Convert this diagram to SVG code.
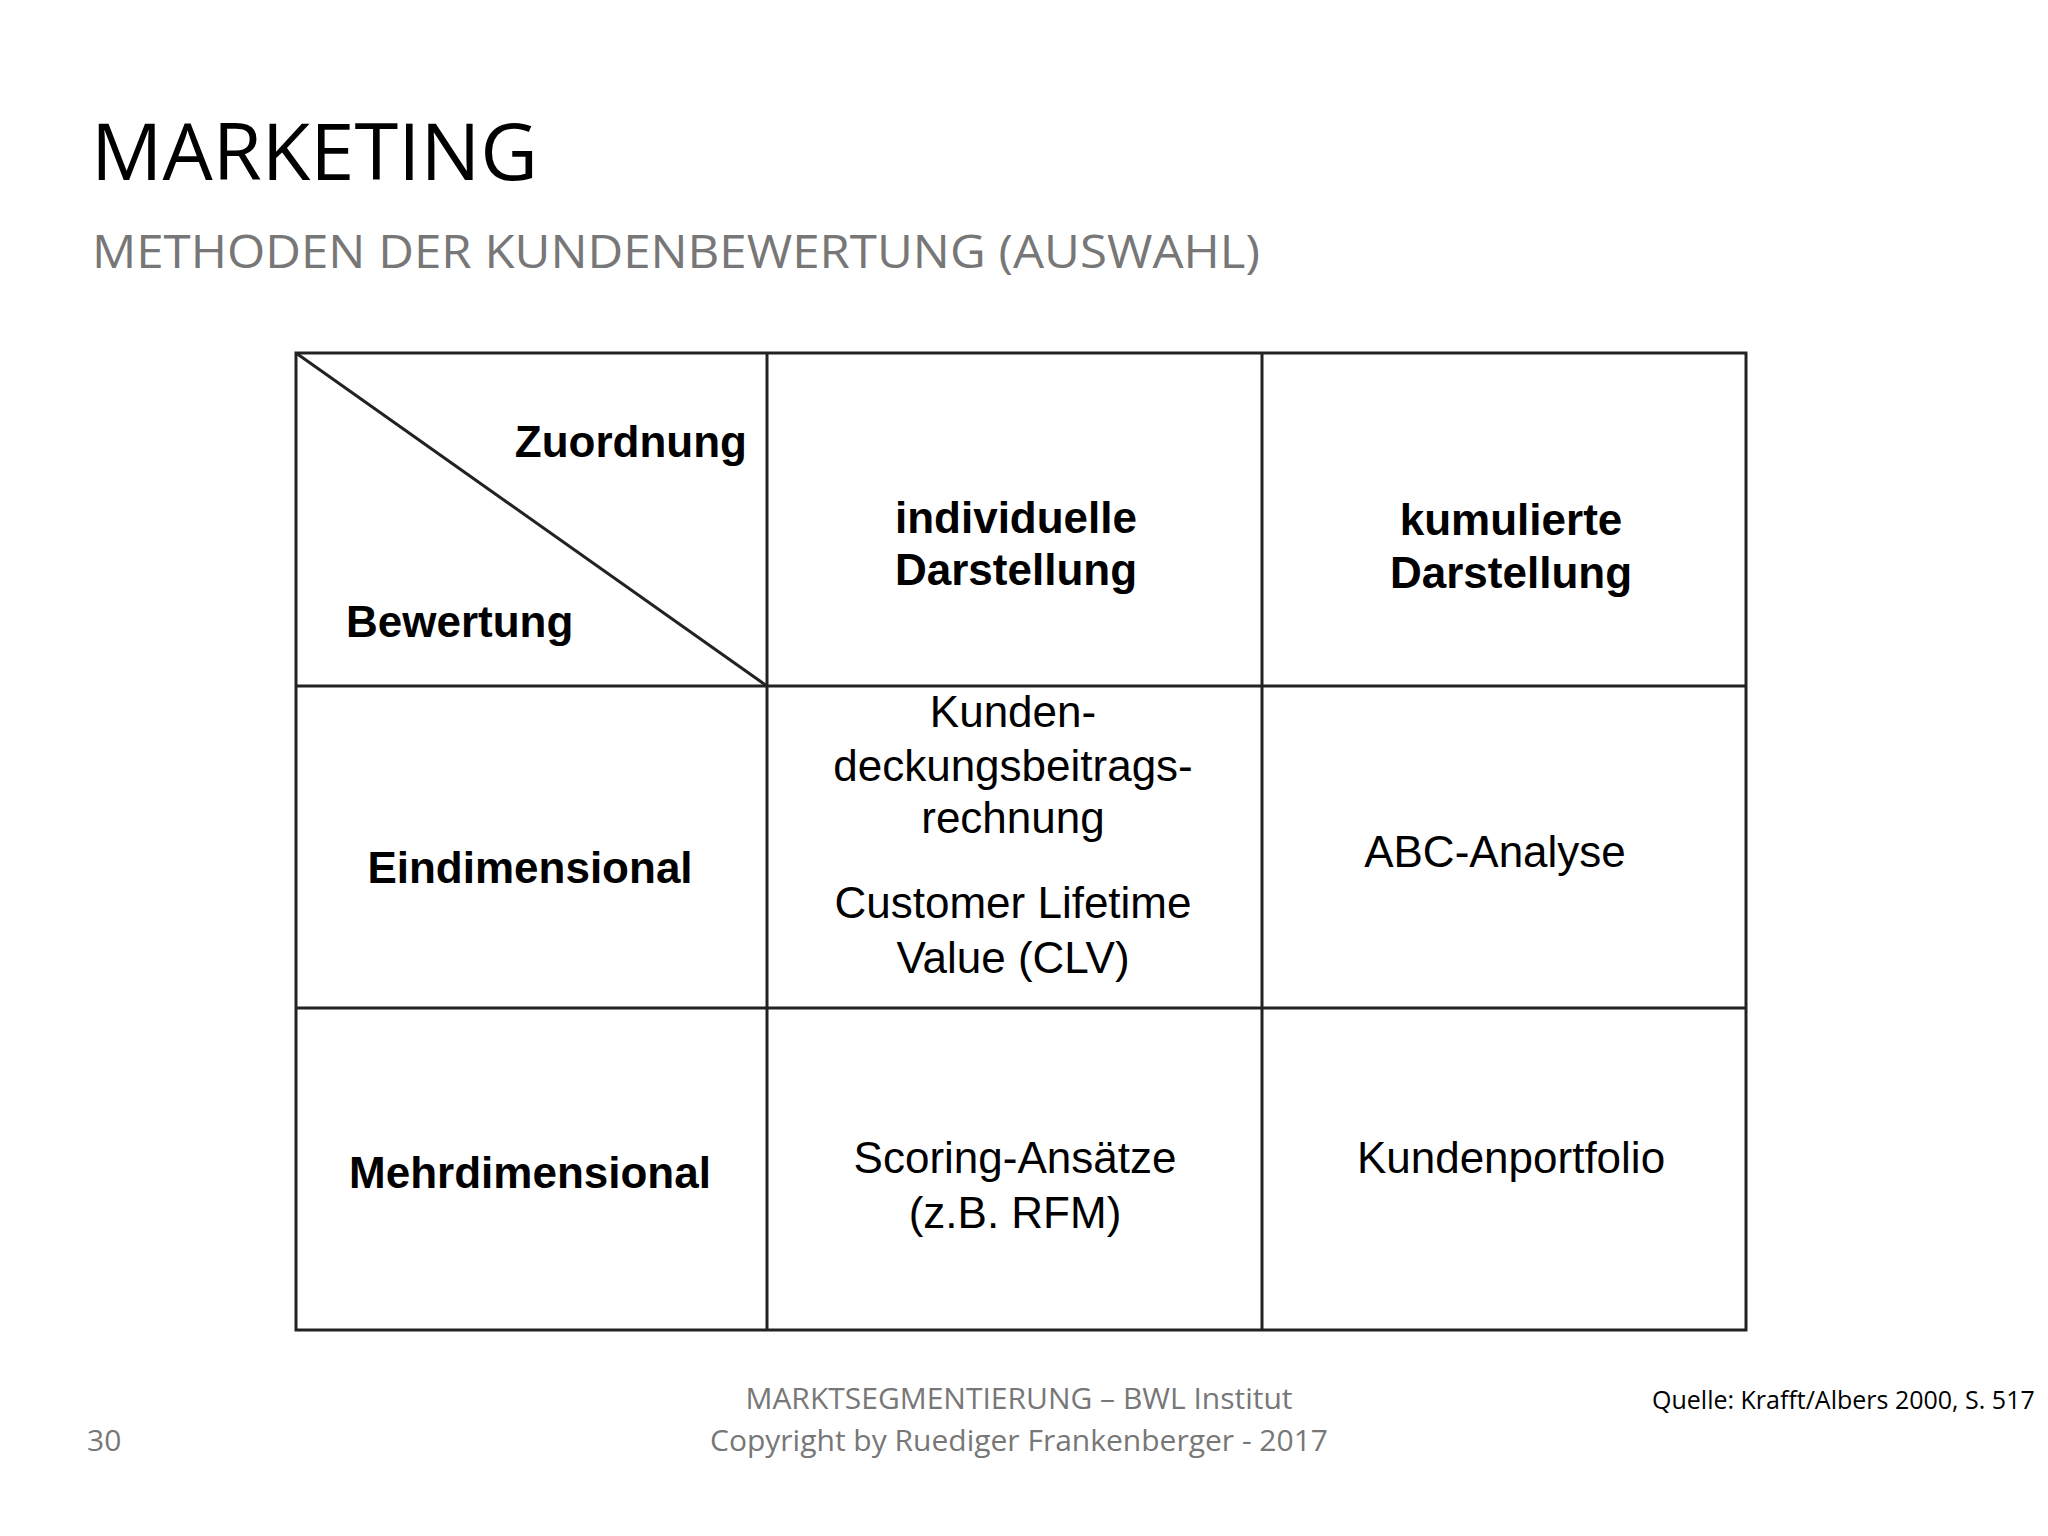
<svg xmlns="http://www.w3.org/2000/svg" width="2048" height="1536" viewBox="0 0 2048 1536">
<style>
.t{font-family:"Liberation Sans",Arial,sans-serif;font-size:44px;fill:#000;text-anchor:middle}
.b{font-weight:bold}
.ln{stroke:#222;stroke-width:3;fill:none}
.f{font-family:"Open Sans","Liberation Sans",sans-serif}
</style>
<rect width="2048" height="1536" fill="#fff"/>
<text class="f" x="91" y="180" font-size="78" fill="#000" textLength="447" lengthAdjust="spacingAndGlyphs">MARKETING</text>
<text class="f" x="92" y="268" font-size="45" fill="#777" textLength="1168" lengthAdjust="spacingAndGlyphs">METHODEN DER KUNDENBEWERTUNG (AUSWAHL)</text>
<g id="table">
<rect x="296" y="353" width="1450" height="977" class="ln" stroke-width="4"/>
<line x1="767" y1="353" x2="767" y2="1330" class="ln"/>
<line x1="1262" y1="353" x2="1262" y2="1330" class="ln"/>
<line x1="296" y1="686" x2="1746" y2="686" class="ln"/>
<line x1="296" y1="1008" x2="1746" y2="1008" class="ln"/>
<line x1="296" y1="353" x2="767" y2="686" class="ln" stroke-width="2"/>
</g>
<g id="header">
<text class="t b" x="747" y="457" text-anchor="end" style="text-anchor:end">Zuordnung</text>
<text class="t b" x="346" y="637" style="text-anchor:start">Bewertung</text>
<text class="t b" x="1016" y="533">individuelle</text>
<text class="t b" x="1016" y="585">Darstellung</text>
<text class="t b" x="1511" y="535">kumulierte</text>
<text class="t b" x="1511" y="588">Darstellung</text>
</g>
<g id="row1">
<text class="t b" x="530" y="883">Eindimensional</text>
<text class="t" x="1013" y="727">Kunden-</text>
<text class="t" x="1013" y="781">deckungsbeitrags-</text>
<text class="t" x="1013" y="833">rechnung</text>
<text class="t" x="1013" y="918">Customer Lifetime</text>
<text class="t" x="1013" y="973">Value (CLV)</text>
<text class="t" x="1495" y="867">ABC-Analyse</text>
</g>
<g id="row2">
<text class="t b" x="530" y="1188">Mehrdimensional</text>
<text class="t" x="1015" y="1173">Scoring-Ansätze</text>
<text class="t" x="1015" y="1228">(z.B. RFM)</text>
<text class="t" x="1511" y="1173">Kundenportfolio</text>
</g>
<g id="footer" class="f">
<text x="1019" y="1409" font-size="30" fill="#777" text-anchor="middle">MARKTSEGMENTIERUNG – BWL Institut</text>
<text x="1019" y="1451" font-size="30" fill="#777" text-anchor="middle">Copyright by Ruediger Frankenberger - 2017</text>
<text x="87" y="1451" font-size="30" fill="#777">30</text>
<text x="1652" y="1409" font-size="25" fill="#000">Quelle: Krafft/Albers 2000, S. 517</text>
</g>
</svg>
